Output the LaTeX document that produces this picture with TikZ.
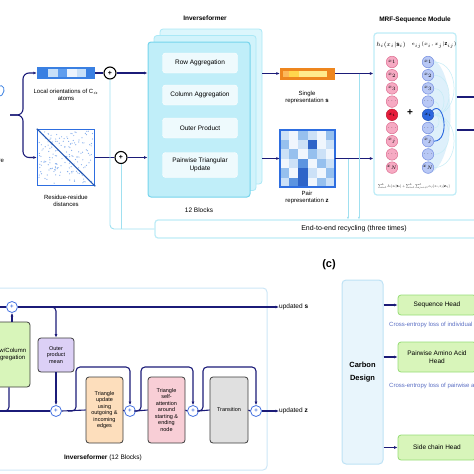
\documentclass[tikz,border=0pt]{standalone}
\usepackage{fontspec}
\setmainfont{Liberation Sans}
\usetikzlibrary{arrows.meta,calc}
\definecolor{navy}{RGB}{27,27,120}
\definecolor{cyanl}{RGB}{160,224,240}
\definecolor{cardf}{RGB}{192,238,249}
\definecolor{cardd}{RGB}{118,212,236}
\definecolor{cardb}{RGB}{220,246,252}
\definecolor{cardbd}{RGB}{170,232,246}
\definecolor{innerf}{RGB}{238,250,253}
\definecolor{obar}{RGB}{58,128,226}
\definecolor{olight}{RGB}{200,224,248}
\definecolor{omid}{RGB}{96,158,238}
\definecolor{owhite}{RGB}{236,244,253}
\definecolor{sor}{RGB}{238,134,30}
\definecolor{sor2}{RGB}{252,184,90}
\definecolor{syel}{RGB}{255,214,77}
\definecolor{syel2}{RGB}{255,234,140}
\definecolor{pm0}{RGB}{240,246,253}
\definecolor{pm1}{RGB}{204,225,247}
\definecolor{pm2}{RGB}{150,192,238}
\definecolor{pm3}{RGB}{92,148,224}
\definecolor{pm4}{RGB}{46,100,200}
\definecolor{pblue}{RGB}{46,110,224}
\definecolor{speck}{RGB}{80,140,230}
\definecolor{mrfd}{RGB}{190,236,247}
\definecolor{pinkf}{RGB}{246,170,195}
\definecolor{pinkd}{RGB}{222,110,145}
\definecolor{redf}{RGB}{232,30,60}
\definecolor{bluef}{RGB}{184,200,245}
\definecolor{blued}{RGB}{118,142,224}
\definecolor{bluedk}{RGB}{45,104,224}
\definecolor{fanc}{RGB}{222,240,251}
\definecolor{greenf}{RGB}{216,245,186}
\definecolor{greend}{RGB}{150,220,118}
\definecolor{purf}{RGB}{220,208,246}
\definecolor{oraf}{RGB}{253,222,188}
\definecolor{pnkf}{RGB}{248,206,214}
\definecolor{grayf}{RGB}{224,224,224}
\definecolor{boxd}{RGB}{60,60,60}
\definecolor{plusb}{RGB}{70,115,225}
\definecolor{boxbl}{RGB}{205,230,246}
\definecolor{carbf}{RGB}{232,245,252}
\definecolor{carbd}{RGB}{190,226,245}
\definecolor{losst}{RGB}{90,110,195}
\begin{document}
\begin{tikzpicture}[x=1pt,y=-1pt,
  nav/.style={navy, line width=1.1pt},
  arr/.style={-{Latex[length=3.5pt,width=3pt]}},
  cy/.style={cyanl, line width=0.9pt},
  lbl/.style={font=\fontsize{6}{7}\selectfont, align=center, inner sep=0pt},
  lblm/.style={font=\fontsize{6.5}{7.5}\selectfont, align=center, inner sep=0pt},
  ttl/.style={font=\bfseries\fontsize{6.5}{7.5}\selectfont, align=center, inner sep=0pt},
  pa/.style={circle, draw=black, line width=1.1pt, fill=white, minimum size=12pt, inner sep=0pt, font=\bfseries\fontsize{7}{7}\selectfont},
  pb/.style={circle, draw=plusb, line width=0.8pt, fill=white, minimum size=11pt, inner sep=0pt, text=plusb, font=\bfseries\fontsize{6}{6}\selectfont},
  card/.style={rectangle, rounded corners=3pt, minimum width=102pt, minimum height=155pt, inner sep=0pt},
  innerbox/.style={rectangle, rounded corners=3pt, fill=innerf, draw=white, minimum width=75pt, minimum height=20pt, inner sep=0pt, align=center, font=\fontsize{6.5}{7.5}\selectfont},
  pc/.style={circle, draw=pinkd, fill=pinkf, line width=0.5pt, minimum size=11.5pt, inner sep=0pt, font=\fontsize{4}{4}\selectfont},
  pcr/.style={pc, fill=redf, draw=redf!80!black},
  bc/.style={circle, draw=blued, fill=bluef, line width=0.5pt, minimum size=11.5pt, inner sep=0pt, font=\fontsize{4}{4}\selectfont},
  bcd/.style={bc, fill=bluedk, draw=bluedk!80!black},
  blk/.style={rectangle, rounded corners=3pt, draw=boxd, line width=0.8pt, minimum width=37pt, minimum height=66pt, inner sep=1pt, align=center, font=\fontsize{5.5}{6.5}\selectfont},
  head/.style={rectangle, rounded corners=3pt, draw=greend, fill=greenf, line width=0.8pt, minimum width=78pt, inner sep=0pt, align=center, font=\fontsize{6.5}{7.5}\selectfont},
  loss/.style={anchor=west, inner sep=0pt, text=losst, font=\fontsize{6}{7}\selectfont}
]
\useasboundingbox (0,0) rectangle (474,474);
\clip (0,0) rectangle (474,474);

% ================= (a) top =================
\draw[obar, line width=0.8pt] (-2,86) .. controls (4,84) and (6,90) .. (2,95) .. controls (0,97) and (-2,95) .. (-1,93);
\node[lbl, anchor=west] (rtext) at (-1.5,161) {re};

\node[rectangle, fill=obar, minimum width=58pt, minimum height=12pt, inner sep=0pt] (orient) at (66,73) {};
\fill[olight] (48,69) rectangle (58,77);
\fill[omid] (58,69) rectangle (67,77);
\fill[owhite] (67,69) rectangle (77,77);
\fill[olight] (77,69) rectangle (86,77);
\node[lbl] (orientlab) at (66,94.5) {Local orientations of C$_{\alpha}$\\atoms};

\node[rectangle, draw=pblue, line width=1.5pt, fill=white, minimum width=57pt, minimum height=56pt, inner sep=0pt] (dist) at (66,157.5) {};
\pgfmathsetseed{11}
\foreach \k in {1,...,170} {
  \pgfmathsetmacro{\px}{39+54*rnd}
  \pgfmathsetmacro{\py}{131+53*rnd}
  \fill[speck!70] (\px,\py) circle (0.6);
}
\draw[pblue!80!black, line width=1.1pt] (dist.north west) -- (dist.south east);
\node[lbl] (distlab) at (66,201) {Residue-residue\\distances};

\coordinate (src) at (10,115);
\coordinate (br) at (23,115);
\draw[nav, rounded corners=6pt, arr] (src) -- (br) |- (orient.west);
\draw[nav, rounded corners=6pt, arr] (src) -- (br) |- (dist.west);

\node[pa] (p1) at (110,73) {+};
\node[pa] (p2) at (121,157.5) {+};

% Inverseformer stack
\node[card, fill=cardb, draw=cardbd, line width=0.8pt] (inv3) at (211,106.5) {};
\node[card, fill=cardb!60!cardf, draw=cardbd, line width=0.8pt] (inv2) at (205,113) {};
\node[card, fill=cardf, draw=cardd, line width=1pt] (inv1) at (199,119.5) {};
\node[innerbox] (rowagg) at (200,63) {Row Aggregation};
\node[innerbox] (colagg) at (200,95) {Column Aggregation};
\node[innerbox] (outer) at (200,128) {Outer Product};
\node[innerbox, minimum height=25pt] (ptu) at (200,165) {Pairwise Triangular\\Update};
\node[ttl] (invtitle) at (205,18) {Inverseformer};
\node[lblm] (blocks) at (199,210) {12 Blocks};

\draw[nav] (orient.east) -- (p1.west);
\draw[nav, arr] (p1.east) -- (p1 -| inv1.west);
\draw[nav] (dist.east) -- (p2.west);
\draw[nav, arr] (p2.east) -- (p2 -| inv1.west);

% Single representation
\node[rectangle, fill=sor, minimum width=55pt, minimum height=12pt, inner sep=0pt] (single) at (307.5,73.5) {};
\fill[sor2] (283,70.5) rectangle (289,76.5);
\fill[syel] (289,70.5) rectangle (299,76.5);
\fill[syel2] (299,70.5) rectangle (327,76.5);
\node[lbl] (singlelab) at (307,97) {Single\\representation \textbf{s}};

% Pair representation
\node[rectangle, fill=white, minimum width=55pt, minimum height=57pt, inner sep=0pt] (pair) at (307.5,158.5) {};
\foreach \row [count=\r] in {{1,0,2,1,0,2},{2,0,1,4,0,1},{1,2,0,2,1,0},{0,1,3,0,2,1},{2,0,4,1,0,2},{1,3,4,0,2,1}} {
  \foreach \v [count=\c] in \row {
    \fill[pm\v] ({280+55/6*(\c-1)},{130+57/6*(\r-1)}) rectangle ++(55/6,57/6);
  }
}
\draw[pblue, line width=1.5pt] (pair.north west) rectangle (pair.south east);
\node[lbl] (pairlab) at (307,197) {Pair\\representation \textbf{z}};

\draw[nav, arr] (inv3.east |- single.west) -- (single.west);
\draw[nav, arr] (inv3.east |- pair.west) -- (pair.west);

% MRF module
\node[rectangle, rounded corners=3pt, draw=mrfd, line width=1.2pt, fill=white, minimum width=82pt, minimum height=162pt, inner sep=0pt] (mrf) at (415,114) {};
\node[ttl] (mrftitle) at (415,20) {MRF-Sequence Module};
\node[font=\fontsize{6}{7}\selectfont, inner sep=0pt] (hlab) at (391,45) {$h_i(x_i|\mathbf{s}_i)$};
\node[font=\fontsize{5.5}{7}\selectfont, inner sep=0pt] (elab) at (434,45) {$e_{ij}(x_i,x_j|\mathbf{z}_{ij})$};
\fill[fanc] (428,57) .. controls (458,62) and (458,166) .. (428,174) -- cycle;
\foreach \k/\lab/\ps/\bs in {1/x_1/pc/bc,2/x_2/pc/bc,3/x_3/pc/bc,4/\cdots/pc/bc,5/x_i/pcr/bcd,6/\cdots/pc/bc,7/x_j/pc/bc,8/\cdots/pc/bc,9/x_N/pc/bc} {
  \node[\ps] (a\k) at (392,{62+13.2*(\k-1)}) {$\lab$};
  \node[\bs] (b\k) at (428,{62+13.2*(\k-1)}) {$\lab$};
}
\foreach \k in {1,2,3,4,6,7,8,9} {
  \draw[cyanl!60, line width=0.5pt] (b5.east) to[out=0, in=0, looseness=1.3] (b\k.east);
}
\draw[bluedk, line width=0.9pt] (b5.north east) to[out=45, in=0, looseness=1.4] (b7.east);
\node[font=\bfseries\fontsize{10}{10}\selectfont, inner sep=0pt] (mrfplus) at (410,113) {+};
\node[inner sep=0pt] (formula) at (414,186) {\resizebox{72pt}{!}{$\sum_{i=1}^{L} h_i(x_i|\mathbf{s}_i)+\sum_{i=1}^{L}\sum_{j=i+1}^{L} e_{ij}(x_i,x_j|\mathbf{z}_{ij})$}};

\draw[nav, arr] (single.east) -- (single.east -| mrf.west);
\draw[nav, arr] (pair.east) -- (pair.east -| mrf.west);
\coordinate (o1) at (476,97);
\coordinate (o2) at (476,130);
\draw[nav] (mrf.east |- o1) -- (o1);
\draw[nav] (mrf.east |- o2) -- (o2);

% recycling
\node[rectangle, rounded corners=3pt, draw=mrfd, line width=1.2pt, fill=white, minimum width=325pt, minimum height=18pt, inner sep=0pt] (recyc) at (317.5,229) {};
\node[font=\fontsize{7}{8}\selectfont, inner sep=0pt] (recyclab) at (354,228.5) {End-to-end recycling (three times)};
\draw[cy, rounded corners=4pt] (p1.south) |- (recyc.west);
\draw[cy] (p2.south) -- (p2.south |- recyc.west);
\coordinate (c1) at (359,73.5);
\coordinate (c2) at (348,158.5);
\draw[cy, -{Latex[length=2.5pt,width=2.5pt]}] (c1) -- (c1 |- recyc.north);
\draw[cy, -{Latex[length=2.5pt,width=2.5pt]}] (c2) -- (c2 |- recyc.north);

% ================= (b) bottom left =================
\node[rectangle, rounded corners=4pt, draw=boxbl, line width=1pt, minimum width=277pt, minimum height=182pt, inner sep=0pt] (invb) at (128.5,379) {};

\node[pb] (bp0) at (12,307) {+};
\node[lblm, anchor=west] (upds) at (279,307) {updated \textbf{s}};
\coordinate (sin) at (-3,307);
\draw[nav] (sin) -- (bp0.west);
\draw[nav, arr] (bp0.east) -- (upds.west);

\node[blk, fill=greenf, minimum width=42pt, minimum height=65pt, font=\fontsize{6}{7}\selectfont] (rowcol) at (9,354.5) {Row/Column\\Aggregation};
\draw[nav, arr] (rowcol.north -| bp0) -- (bp0.south);

\node[blk, fill=purf, minimum width=36pt, minimum height=34pt] (opm) at (56,355) {Outer\\product\\mean};
\coordinate (sb1) at (44,307);
\draw[nav, rounded corners=4pt, arr] (sb1) -| (opm.north);

\node[pb] (bp1) at (56,411) {+};
\node[pb] (bp2) at (130,411) {+};
\node[pb] (bp3) at (193,411) {+};
\node[pb] (bp4) at (256,411) {+};
\node[blk, fill=oraf] (tri1) at (104.5,410) {Triangle\\update\\using\\outgoing \&\\incoming\\edges};
\node[blk, fill=pnkf] (tri2) at (166.5,410) {Triangle\\self-\\attention\\around\\starting \&\\ending\\node};
\node[blk, fill=grayf, minimum width=38pt] (trans) at (229,410) {Transition};
\node[lblm, anchor=west] (updz) at (279,411) {updated \textbf{z}};

\coordinate (zin) at (-3,411);
\draw[nav] (zin) -- (bp1.west);
\draw[nav, rounded corners=4pt] (zin) -| (rowcol.south);
\draw[nav, arr] (opm.south) -- (bp1.north);
\draw[nav] (bp1.east) -- (tri1.west);
\draw[nav] (tri1.east) -- (bp2.west);
\draw[nav] (bp2.east) -- (tri2.west);
\draw[nav] (tri2.east) -- (bp3.west);
\draw[nav] (bp3.east) -- (trans.west);
\draw[nav] (trans.east) -- (bp4.west);
\draw[nav, arr] (bp4.east) -- (updz.west);

\coordinate (rs1) at (68,411);
\coordinate (rs2) at (134,411);
\coordinate (rs3) at (197,411);
\draw[nav, rounded corners=4pt, arr] (rs1) -| (76,367) -| (bp2.north);
\draw[nav, rounded corners=4pt, arr] (rs2) -| (141,367) -| (bp3.north);
\draw[nav, rounded corners=4pt, arr] (rs3) -| (203,367) -| (bp4.north);

\node[lblm] (invblab) at (103,458) {\textbf{Inverseformer} (12 Blocks)};

% ================= (c) =================
\node[font=\bfseries\fontsize{11}{12}\selectfont, inner sep=0pt] (clab) at (329,265) {(c)};
\node[rectangle, rounded corners=4pt, fill=carbf, draw=carbd, line width=1pt, minimum width=41pt, minimum height=184pt, inner sep=0pt, align=center, font=\bfseries\fontsize{7.5}{12.5}\selectfont] (carbon) at (362.5,372) {Carbon\\Design};

\node[head, minimum height=20pt] (seqh) at (437,305) {Sequence Head};
\node[head, minimum height=30pt] (pairh) at (437,357) {Pairwise Amino Acid\\Head};
\node[head, minimum height=25pt] (sideh) at (437,447.5) {Side chain Head};
\draw[nav, arr] (carbon.east |- seqh.west) -- (seqh.west);
\draw[nav, arr] (carbon.east |- pairh.west) -- (pairh.west);
\draw[nav, arr] (carbon.east |- sideh.west) -- (sideh.west);
\node[loss] (loss1) at (389,325) {Cross-entropy loss of individual amino acids};
\node[loss] (loss2) at (389,386) {Cross-entropy loss of pairwise amino acids};

\end{tikzpicture}
\end{document}
